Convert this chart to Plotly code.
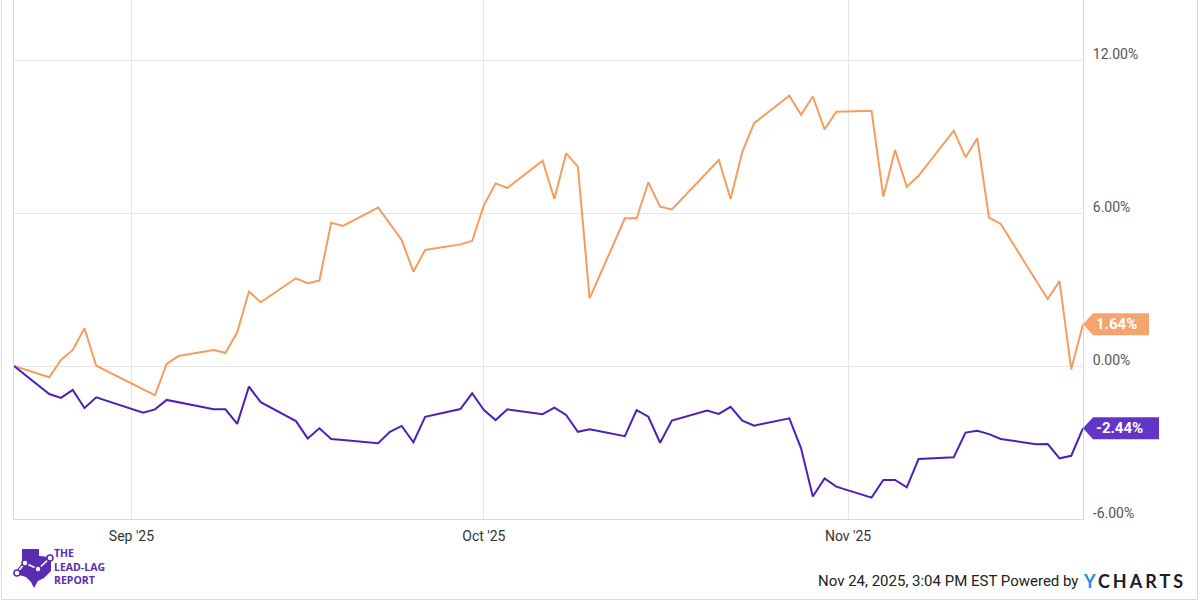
import plotly.graph_objects as go

# ---------------- data ----------------
dates = [
    "2025-08-22", "2025-08-25", "2025-08-26", "2025-08-27", "2025-08-28", "2025-08-29",
    "2025-09-02", "2025-09-03", "2025-09-04", "2025-09-05",
    "2025-09-08", "2025-09-09", "2025-09-10", "2025-09-11", "2025-09-12",
    "2025-09-15", "2025-09-16", "2025-09-17", "2025-09-18", "2025-09-19",
    "2025-09-22", "2025-09-23", "2025-09-24", "2025-09-25", "2025-09-26",
    "2025-09-29", "2025-09-30", "2025-10-01", "2025-10-02", "2025-10-03",
    "2025-10-06", "2025-10-07", "2025-10-08", "2025-10-09", "2025-10-10",
    "2025-10-13", "2025-10-14", "2025-10-15", "2025-10-16", "2025-10-17",
    "2025-10-20", "2025-10-21", "2025-10-22", "2025-10-23", "2025-10-24",
    "2025-10-27", "2025-10-28", "2025-10-29", "2025-10-30", "2025-10-31",
    "2025-11-03", "2025-11-04", "2025-11-05", "2025-11-06", "2025-11-07",
    "2025-11-10", "2025-11-11", "2025-11-12", "2025-11-13", "2025-11-14",
    "2025-11-17", "2025-11-18", "2025-11-19", "2025-11-20", "2025-11-21",
]

orange_values = [
    0.00, -0.44, 0.24, 0.63, 1.48, 0.01,
    -0.92, -1.14, 0.08, 0.39,
    0.63, 0.52, 1.32, 2.92, 2.50,
    3.44, 3.25, 3.35, 5.62, 5.49,
    6.21, 5.59, 4.94, 3.70, 4.55,
    4.77, 4.90, 6.31, 7.16, 6.98,
    8.05, 6.55, 8.34, 7.82, 2.65,
    5.79, 5.79, 7.20, 6.25, 6.14,
    7.60, 8.08, 6.55, 8.40, 9.52,
    10.60, 9.85, 10.57, 9.28, 9.97,
    10.01, 6.64, 8.47, 7.03, 7.46,
    9.23, 8.18, 8.93, 5.82, 5.57,
    3.35, 2.63, 3.33, -0.13, 1.64,
]

purple_values = [
    0.00, -1.10, -1.25, -0.94, -1.65, -1.23,
    -1.83, -1.70, -1.33, -1.42,
    -1.70, -1.70, -2.27, -0.81, -1.42,
    -2.16, -2.84, -2.44, -2.86, -2.90,
    -3.03, -2.58, -2.35, -2.99, -1.99,
    -1.69, -1.07, -1.73, -2.12, -1.70,
    -1.89, -1.63, -1.92, -2.58, -2.48,
    -2.75, -1.73, -1.99, -3.01, -2.14,
    -1.75, -1.88, -1.60, -2.14, -2.34,
    -2.05, -3.23, -5.12, -4.41, -4.73,
    -5.16, -4.47, -4.47, -4.76, -3.65,
    -3.58, -2.61, -2.54, -2.67, -2.86,
    -3.07, -3.06, -3.62, -3.52, -2.44,
]

ytick_vals = [-6, 0, 6, 12]
ytick_text = [f"{v:.2f}%" for v in ytick_vals]

timestamp_text = "Nov 24, 2025, 3:04 PM EST Powered by"
logo_lines = ["THE", "LEAD-LAG", "REPORT"]

# ---------------- style ----------------
ORANGE_LINE = "#F69C60"
ORANGE_TAG = "#F6A46E"
PURPLE_LINE = "#4E20B8"
PURPLE_TAG = "#6234C8"
LOGO_PURPLE = "#5A2DB0"
GRID = "#E6E6E6"
FONT = "Roboto"

fig = go.Figure()
fig.add_trace(go.Scatter(x=dates, y=orange_values, mode="lines",
                         line=dict(color=ORANGE_LINE, width=2), hoverinfo="skip",
                         showlegend=False))
fig.add_trace(go.Scatter(x=dates, y=purple_values, mode="lines",
                         line=dict(color=PURPLE_LINE, width=2), hoverinfo="skip",
                         showlegend=False))

fig.update_layout(
    width=1200, height=600,
    margin=dict(l=14, r=117, t=0, b=81),
    paper_bgcolor="white", plot_bgcolor="white",
    font=dict(family=FONT, color="#333333"),
    showlegend=False,
    xaxis=dict(
        range=[dates[0], dates[-1]],
        type="date",
        tick0="2025-09-01", dtick="M1",
        tickformat="%b '%y",
        showgrid=True, gridcolor=GRID, gridwidth=1,
        showline=True, linecolor="#D9D9D9", linewidth=1,
        ticks="", zeroline=False,
        tickfont=dict(size=14, color="#333333", family=FONT),
        ticklabelstandoff=4,
    ),
    yaxis=dict(
        side="right",
        range=[-6, 14.353],
        tickvals=ytick_vals, ticktext=ytick_text,
        showgrid=True, gridcolor=GRID, gridwidth=1,
        showline=True, mirror=True, linecolor="#D9D9D9", linewidth=1,
        ticks="", zeroline=False,
        tickfont=dict(size=14, color="#555555", family=FONT),
        ticklabelstandoff=6,
        ticklabelshift=-6,
    ),
)

shapes = []
annotations = []

# end-value tags
for vals, color, width in [(orange_values, ORANGE_TAG, 66), (purple_values, PURPLE_TAG, 76)]:
    v = vals[-1]
    shapes.append(dict(
        type="path", xref="paper", yref="y",
        xsizemode="pixel", ysizemode="pixel",
        xanchor=1, yanchor=v,
        path=f"M0,0 L10,11 L{width},11 L{width},-11 L10,-11 Z",
        fillcolor=color, line=dict(width=0), layer="above",
    ))
    annotations.append(dict(
        x=1, xref="paper", y=v, yref="y",
        xanchor="left", yanchor="middle", xshift=11,
        text=f"<b>{v:.2f}%</b>", showarrow=False,
        font=dict(family=FONT, size=15, color="white"),
    ))

# outer frame (left, bottom, right)
shapes.append(dict(
    type="path", xref="paper", yref="paper",
    xsizemode="pixel", ysizemode="pixel", xanchor=0, yanchor=0,
    path="M-12.5,519 L-12.5,-80.5 L1183.5,-80.5 L1183.5,519",
    line=dict(color="#DADADA", width=1), layer="below",
))

# logo icon (rough Texas-like outline with a chart line)
def P(X, Y):
    return f"{X - 14:.1f},{519 - Y:.1f}"

poly = [(22, 549), (39, 549), (39, 556), (51, 557), (51, 571), (44, 578), (38, 581),
        (34, 588), (31, 582), (26, 577), (19, 575), (22, 566)]
shapes.append(dict(
    type="path", xref="paper", yref="paper", xsizemode="pixel", ysizemode="pixel",
    xanchor=0, yanchor=0,
    path="M" + " L".join(P(*p) for p in poly) + " Z",
    fillcolor=LOGO_PURPLE, line=dict(width=0), layer="above",
))
nodes = [(17, 573), (25, 563), (38, 569), (50, 558)]
shapes.append(dict(
    type="path", xref="paper", yref="paper", xsizemode="pixel", ysizemode="pixel",
    xanchor=0, yanchor=0,
    path="M" + " L".join(P(*p) for p in nodes),
    line=dict(color=LOGO_PURPLE, width=4), layer="above",
))
shapes.append(dict(
    type="path", xref="paper", yref="paper", xsizemode="pixel", ysizemode="pixel",
    xanchor=0, yanchor=0,
    path="M" + " L".join(P(*p) for p in nodes),
    line=dict(color="white", width=1.6), layer="above",
))
for (nx, ny) in nodes:
    shapes.append(dict(
        type="circle", xref="paper", yref="paper", xsizemode="pixel", ysizemode="pixel",
        xanchor=0, yanchor=0,
        x0=nx - 14 - 3, x1=nx - 14 + 3, y0=519 - ny - 3, y1=519 - ny + 3,
        fillcolor="white", line=dict(color=LOGO_PURPLE, width=1.6), layer="above",
    ))

annotations.append(dict(
    x=0, xref="paper", y=0, yref="paper", xanchor="left", yanchor="middle",
    xshift=39, yshift=-(566 - 519), align="left",
    text="<br>".join(f"<b>{t}</b>" for t in logo_lines), showarrow=False,
    borderpad=0,
    font=dict(family="Open Sans", size=10.5, color=LOGO_PURPLE),
))

# footer texts
annotations.append(dict(
    x=1, xref="paper", y=0, yref="paper", xanchor="right", yanchor="middle",
    xshift=-3, yshift=-62, text=timestamp_text, showarrow=False,
    font=dict(family=FONT, size=15, color="#222222"),
))
annotations.append(dict(
    x=1, xref="paper", y=0, yref="paper", xanchor="left", yanchor="middle",
    xshift=-2, yshift=-62,
    text="<b><span style='color:#1E8FE1;letter-spacing:3px'>Y</span>"
         "<span style='letter-spacing:3px'>CHARTS</span></b>",
    showarrow=False,
    font=dict(family="Lato", size=18, color="#1B1B2B"),
))

fig.update_layout(shapes=shapes, annotations=annotations)
fig.write_html("out.html")
